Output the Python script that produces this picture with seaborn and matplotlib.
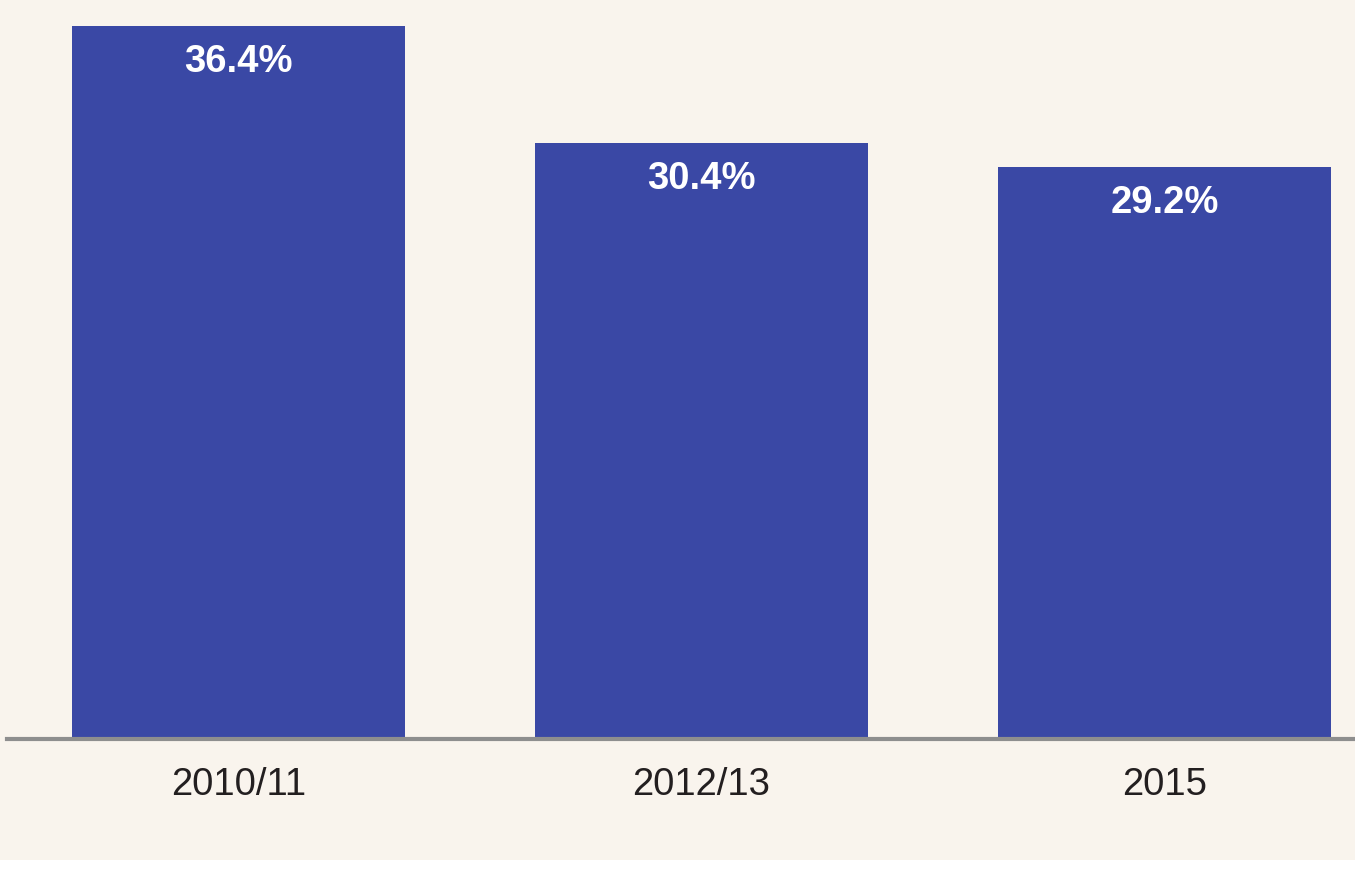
import matplotlib
matplotlib.use("Agg")
import matplotlib.pyplot as plt
import seaborn as sns
import pandas as pd
from matplotlib.patches import Rectangle

# Values
years = ["2010/11", "2012/13", "2015"]
shares = [36.4, 30.4, 29.2]
labels = ["36.4%", "30.4%", "29.2%"]

df = pd.DataFrame({"year": years, "share": shares})

sns.set_theme(style="white")
plt.rcParams["font.family"] = ["Liberation Sans", "DejaVu Sans"]

W, H = 1355, 882
fig = plt.figure(figsize=(W / 100, H / 100), dpi=100, facecolor="white")
# beige panel behind the chart, leaves a white strip at the bottom
fig.patches.append(Rectangle((0, 22 / H), 1, 1 - 22 / H, transform=fig.transFigure,
                             facecolor="#f9f4ed", edgecolor="none", zorder=-10))

ax = fig.add_axes([7 / W, (H - 739) / H, (W - 7) / W, 739 / H])
ax.set_facecolor("none")
ax.set_zorder(5)

sns.barplot(data=df, x="year", y="share", color="#3a48a5", saturation=1,
            width=0.72, linewidth=0, ax=ax)

ax.set_xlim(-0.5, 2.411)
ax.set_ylim(0, 37.72)

for i, (v, lab) in enumerate(zip(shares, labels)):
    ax.annotate(lab, (i, v), xytext=(0, -13), textcoords="offset points",
                ha="center", va="top", color="white", fontsize=27.5,
                fontweight="bold")

for side in ["top", "right", "left"]:
    ax.spines[side].set_visible(False)
ax.spines["bottom"].set_color("#8e8e8e")
ax.spines["bottom"].set_linewidth(3)
ax.set_yticks([])
ax.set_xlabel("")
ax.set_ylabel("")
ax.tick_params(axis="x", length=0, pad=20, labelsize=27.5, labelcolor="#231f20")

fig.savefig("out.png", dpi=100, facecolor=fig.get_facecolor())
